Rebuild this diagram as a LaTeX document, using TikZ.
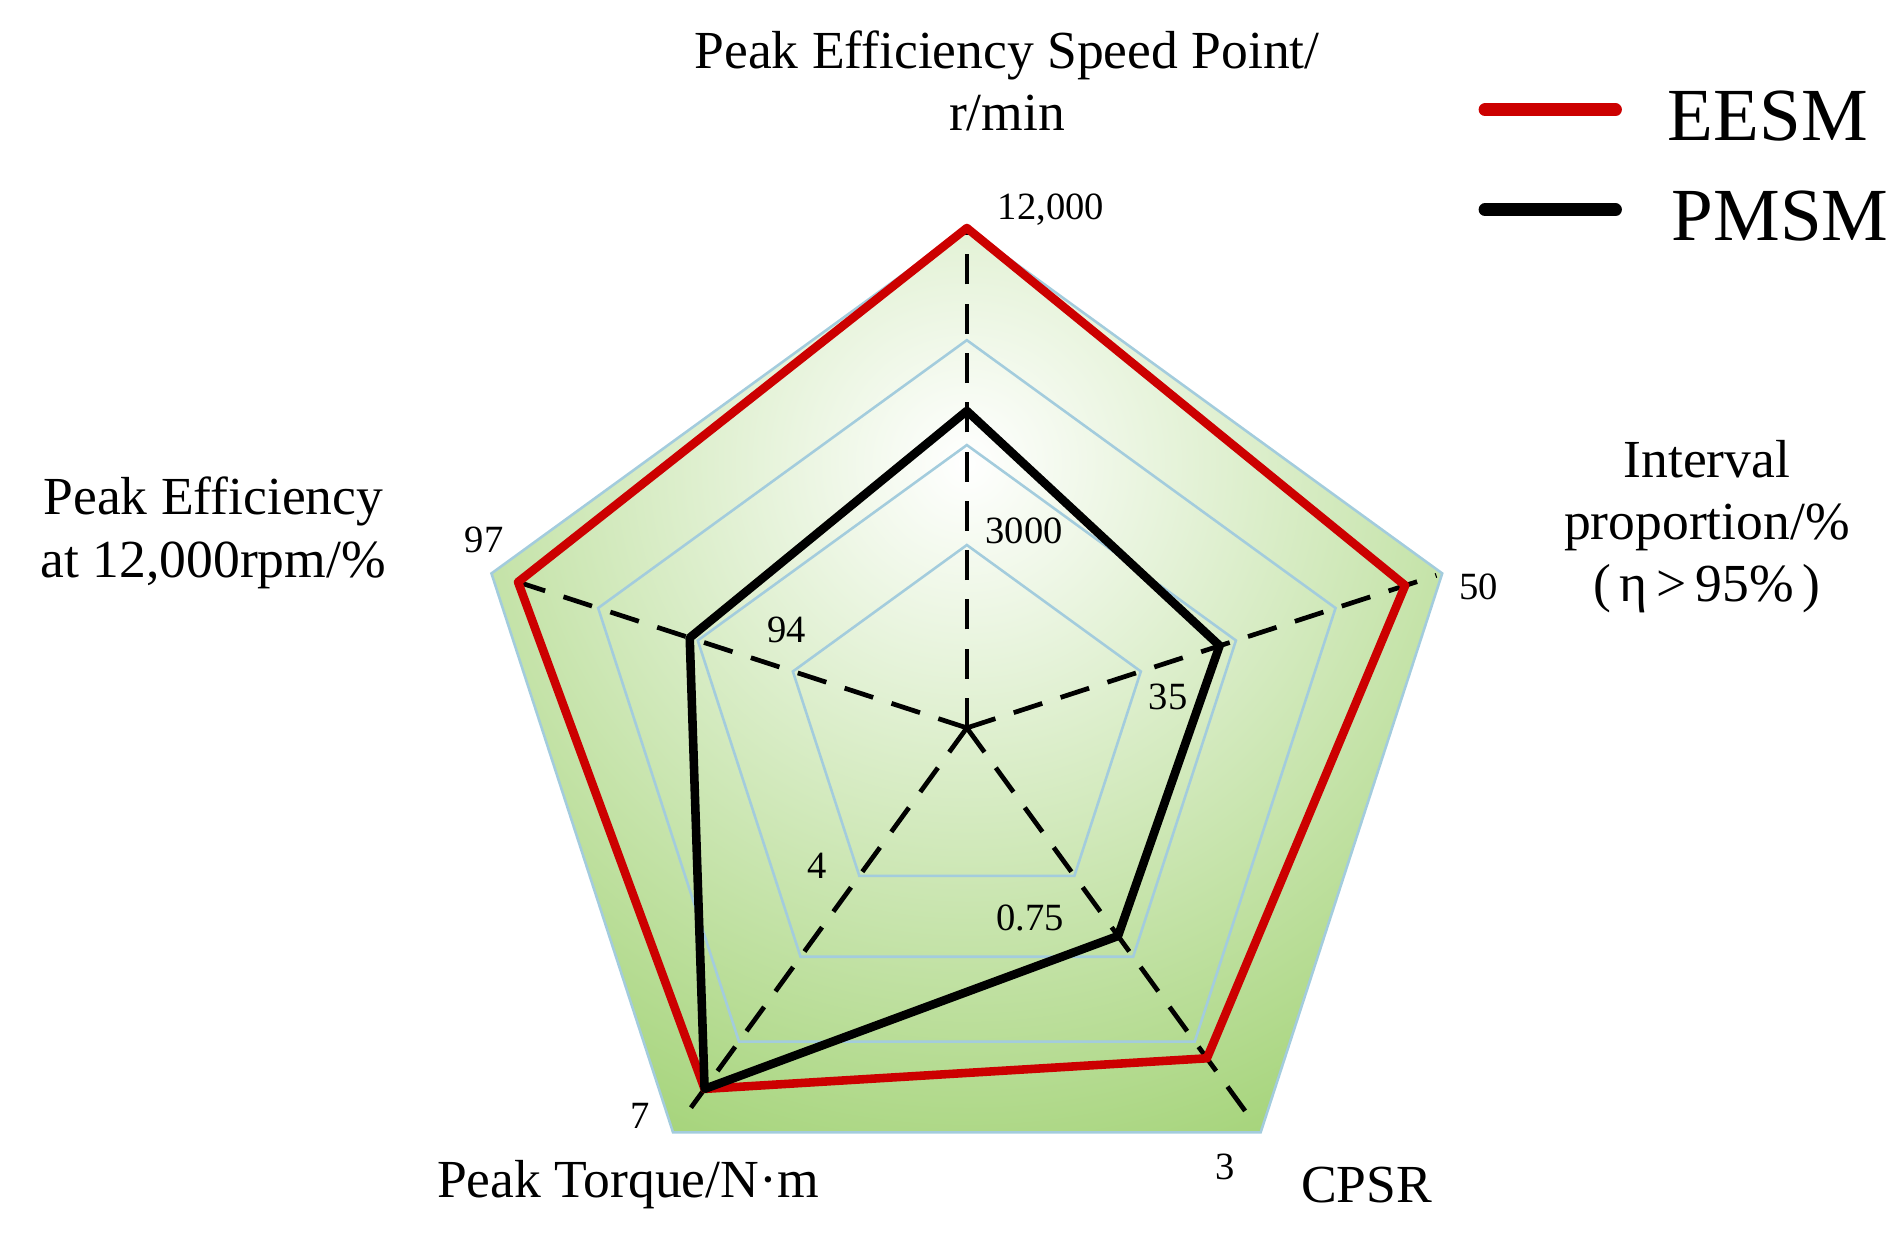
\documentclass[tikz,border=0pt]{standalone}
\usepackage{fontspec}
\setmainfont{Liberation Serif}
\begin{document}
\begin{tikzpicture}[x=0.02cm,y=-0.02cm,
  ring/.style={draw=cyan!50!gray!55, line width=1.2pt},
  axis/.style={dash pattern=on 14pt off 9pt, line width=2.2pt},
  eesm/.style={draw=red!80!black, line width=4pt, line join=round},
  pmsm/.style={draw=black, line width=4pt, line join=round},
  big/.style={font=\fontsize{25}{29}\selectfont, align=center},
  tick/.style={font=\fontsize{18}{22}\selectfont},
  leg/.style={font=\fontsize{35}{40}\selectfont}]
\useasboundingbox (0,0) rectangle (1560,1011);
\coordinate (C) at (793,597);
% shaded outer pentagon
\begin{scope}
\clip (793,187) -- (1182.9,470.3) -- (1034,928.7) -- (552,928.7) -- (403.1,470.3) -- cycle;
\shade[inner color=white, outer color=green!35!olive!60!white] (793,380) circle[radius=700];
\end{scope}
\draw[ring] (793,447) -- (935.7,550.7) -- (881.2,718.4) -- (704.8,718.4) -- (650.3,550.7) -- cycle;
\draw[ring] (793,365) -- (1013.7,525.3) -- (929.4,784.7) -- (656.6,784.7) -- (572.3,525.3) -- cycle;
\draw[ring] (793,279) -- (1095.4,498.7) -- (979.9,854.3) -- (606.1,854.3) -- (490.6,498.7) -- cycle;
\draw[ring] (793,187) -- (1182.9,470.3) -- (1034,928.7) -- (552,928.7) -- (403.1,470.3) -- cycle;
% axes
\coordinate (aT) at (793,187);
\coordinate (aR) at (1178.2,471.9);
\coordinate (aBR) at (1028.1,920.6);
\coordinate (aBL) at (566.7,908.5);
\coordinate (aL) at (426.8,478.0);
\foreach \c in {aT,aR,aBR,aBL,aL}{ \draw[axis] (C) -- (\c); }
% data
\coordinate (e1) at (793,187); \coordinate (e2) at (1152.5,480.2);
\coordinate (e3) at (989.9,868.0); \coordinate (e4) at (577.9,893.1);
\coordinate (e5) at (424.9,477.4);
\coordinate (p1) at (793,337); \coordinate (p2) at (1000.3,529.6);
\coordinate (p3) at (917.0,767.7); \coordinate (p4) at (577.9,893.1);
\coordinate (p5) at (565.7,523.1);
\draw[eesm] (e1) -- (e2) -- (e3) -- (e4) -- (e5) -- cycle;
\draw[pmsm] (p1) -- (p2) -- (p3) -- (p4) -- (p5) -- cycle;
% ticks
\node[tick] (t1) at (862,172) {12,000};
\node[tick] (t2) at (840,435) {3000};
\node[tick] (t3) at (645,517) {94};
\node[tick] (t4) at (958,572) {35};
\node[tick] (t5) at (670,710) {4};
\node[tick] (t6) at (845,753) {0.75};
\node[tick] (t7) at (397,443) {97};
\node[tick] (t8) at (1213,481) {50};
\node[tick] (t9) at (525,915) {7};
\node[tick] (t10) at (1005,957) {3};
% axis titles
\node[big] (l1) at (826,66) {Peak Efficiency Speed Point/\\r/min};
\node[big] (l2) at (1400,432) {Interval\\proportion/\%\\(\,η\,>\,95\%\,)};
\node[big] (l3) at (175,437) {Peak Efficiency\\at 12,000rpm/\%};
\node[big] (l4) at (515,972) {Peak Torque/N·m};
\node[big] (l5) at (1121,972) {CPSR};
% legend
\coordinate (r1) at (1218,90); \coordinate (r2) at (1325,90);
\coordinate (k1) at (1218,172); \coordinate (k2) at (1325,172);
\draw[eesm, line cap=round, line width=6pt] (r1) -- (r2);
\draw[pmsm, line cap=round, line width=6pt] (k1) -- (k2);
\node[leg] (e) at (1450,95) {EESM};
\node[leg] (p) at (1460,177) {PMSM};
\end{tikzpicture}
\end{document}
